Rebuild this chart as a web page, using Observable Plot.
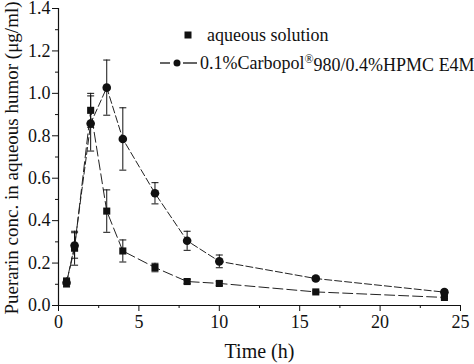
<!DOCTYPE html>
<html>
<head>
<meta charset="utf-8">
<script src="https://cdn.jsdelivr.net/npm/d3@7"></script>
<script src="https://cdn.jsdelivr.net/npm/@observablehq/plot@0.6"></script>
<style>
  html, body { margin: 0; padding: 0; background: #fff; }
  #wrap { position: relative; width: 474px; height: 364px; overflow: hidden; }
  #legend { position: absolute; left: 0; top: 0; pointer-events: none; }
</style>
</head>
<body>
<div id="wrap"></div>
<script>
// ---- data ----
const times = [0.5, 1, 2, 3, 4, 6, 8, 10, 16, 24];
const aqueous = [0.110, 0.270, 0.920, 0.445, 0.257, 0.179, 0.113, 0.104, 0.064, 0.038];
const aqueousErr = [0.020, 0.080, 0.080, 0.100, 0.052, 0.020, 0.010, 0.010, 0.005, 0.005];
const carbopol = [0.107, 0.283, 0.858, 1.027, 0.785, 0.529, 0.305, 0.208, 0.127, 0.063];
const carbopolErr = [0.020, 0.060, 0.130, 0.130, 0.147, 0.050, 0.045, 0.030, 0.010, 0.010];
const seriesNames = ["aqueous solution", "0.1%Carbopol®980/0.4%HPMC E4M"];
const xTicks = [0, 5, 10, 15, 20, 25];
const xMinor = [2.5, 7.5, 12.5, 17.5, 22.5];
const yTicks = [0, 0.2, 0.4, 0.6, 0.8, 1.0, 1.2, 1.4];
const yMinor = [0.1, 0.3, 0.5, 0.7, 0.9, 1.1, 1.3];
const xLabel = "Time (h)";
const yLabel = "Puerarin conc. in aqueous humor (μg/ml)";

const aq = times.map((t, i) => ({t, v: aqueous[i], e: aqueousErr[i]}));
const cb = times.map((t, i) => ({t, v: carbopol[i], e: carbopolErr[i]}));

const cap = {draw(ctx, size) { const r = Math.sqrt(size / Math.PI); ctx.moveTo(-r, 0); ctx.lineTo(r, 0); }};

function errMarks(data) {
  return [
    Plot.ruleX(data, {x: "t", y1: d => d.v - d.e, y2: d => d.v + d.e, stroke: "#111", strokeWidth: 1}),
    Plot.dot(data, {x: "t", y: d => d.v + d.e, symbol: cap, r: 3.5, stroke: "#111", fill: "none", strokeWidth: 1}),
    Plot.dot(data, {x: "t", y: d => d.v - d.e, symbol: cap, r: 3.5, stroke: "#111", fill: "none", strokeWidth: 1})
  ];
}

const chart = Plot.plot({
  width: 474, height: 364,
  marginLeft: 58, marginRight: 14, marginTop: 8, marginBottom: 59,
  style: {fontFamily: "'Liberation Serif', 'Times New Roman', serif", fontSize: "18px", color: "#111", background: "#fff"},
  x: {domain: [0, 25]},
  y: {domain: [0, 1.4]},
  marks: [
    Plot.axisX({ticks: xTicks, tickSize: 6, tickPadding: 4, tickFormat: d => String(d), label: null, stroke: "#111"}),
    Plot.axisX({ticks: xMinor, tickSize: 3, tickFormat: () => "", label: null, stroke: "#111"}),
    Plot.axisY({ticks: yTicks, tickSize: 6, tickPadding: 2, tickFormat: d => d.toFixed(1), label: null, stroke: "#111"}),
    Plot.axisY({ticks: yMinor, tickSize: 3, tickFormat: () => "", label: null, stroke: "#111"}),
    Plot.ruleX([0], {stroke: "#111", strokeWidth: 1.2}),
    Plot.ruleY([0], {stroke: "#111", strokeWidth: 1.2}),
    Plot.text([xLabel], {frameAnchor: "bottom", textAnchor: "middle", dy: 52, fontSize: 20, fill: "#111"}),
    Plot.text([yLabel], {frameAnchor: "left", textAnchor: "middle", rotate: -90, dx: -47, dy: 1, fontSize: 19, fill: "#111"}),
    Plot.line(aq, {x: "t", y: "v", stroke: "#222", strokeWidth: 1, strokeDasharray: "10,4"}),
    Plot.line(cb, {x: "t", y: "v", stroke: "#222", strokeWidth: 1, strokeDasharray: "7,3"}),
    ...errMarks(aq),
    ...errMarks(cb),
    Plot.dot(aq, {x: "t", y: "v", symbol: "square", r: 4, fill: "#111", stroke: "none"}),
    Plot.dot(cb, {x: "t", y: "v", symbol: "circle", r: 4.3, fill: "#111", stroke: "none"})
  ]
});
const wrap = document.getElementById("wrap");
wrap.appendChild(chart);

// legend overlay
const lg = d3.select(wrap).append("svg").attr("id", "legend").attr("width", 474).attr("height", 364)
  .style("font-family", "'Liberation Serif', 'Times New Roman', serif").style("font-size", "18px");
lg.append("rect").attr("x", 184.5).attr("y", 31.5).attr("width", 7).attr("height", 7).attr("fill", "#111");
lg.append("text").attr("x", 207).attr("y", 35).attr("dy", "0.32em").attr("fill", "#111").text(seriesNames[0]);
lg.append("line").attr("x1", 160).attr("x2", 170).attr("y1", 63).attr("y2", 63).attr("stroke", "#111").attr("stroke-width", 1.3);
lg.append("line").attr("x1", 183).attr("x2", 197).attr("y1", 63).attr("y2", 63).attr("stroke", "#111").attr("stroke-width", 1.3);
lg.append("circle").attr("cx", 177).attr("cy", 63).attr("r", 3.5).attr("fill", "#111");
const t2 = lg.append("text").attr("x", 200).attr("y", 63).attr("dy", "0.32em").attr("fill", "#111");
const parts = seriesNames[1].split("®");
t2.append("tspan").text(parts[0]);
t2.append("tspan").attr("dy", "-0.45em").style("font-size", "12px").text("®");
t2.append("tspan").attr("dy", "0.45em").text(parts[1]);
</script>
</body>
</html>
